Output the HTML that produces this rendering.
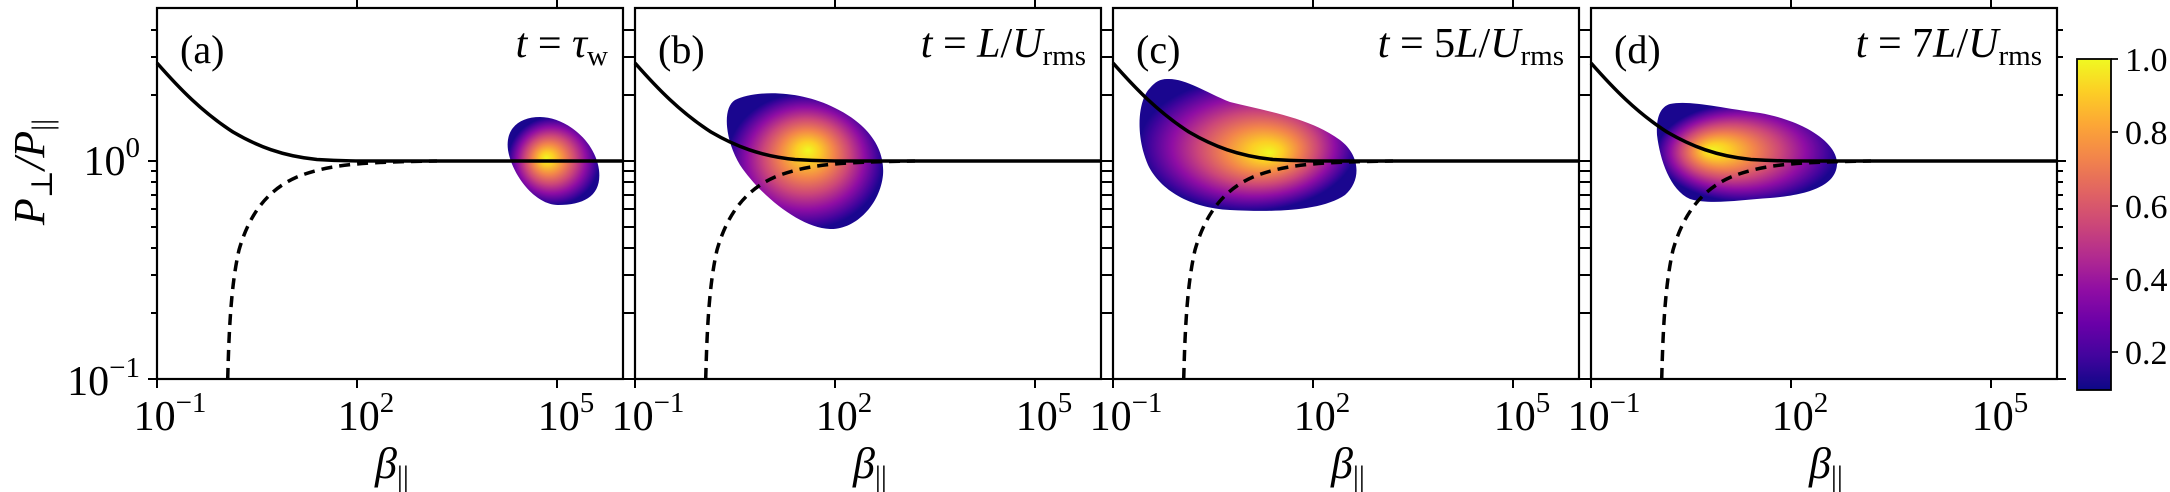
<!DOCTYPE html>
<html><head><meta charset="utf-8"><style>
html,body{margin:0;padding:0;background:#fff;}
svg{display:block;}
text{font-family:"Liberation Serif","DejaVu Serif",serif;fill:#000;}
</style></head><body>
<svg width="2170" height="492" viewBox="0 0 2170 492" xmlns="http://www.w3.org/2000/svg">
<defs>
<linearGradient id="cb" x1="0" y1="1" x2="0" y2="0">
<stop offset="0" stop-color="#0d0887"/><stop offset="0.1" stop-color="#41049d"/><stop offset="0.2" stop-color="#6a00a8"/><stop offset="0.3" stop-color="#8f0da4"/><stop offset="0.4" stop-color="#b12a90"/><stop offset="0.5" stop-color="#cc4778"/><stop offset="0.6" stop-color="#e16462"/><stop offset="0.7" stop-color="#f2844b"/><stop offset="0.8" stop-color="#fca636"/><stop offset="0.9" stop-color="#fcce25"/><stop offset="1" stop-color="#f0f921"/>
</linearGradient>
<radialGradient id="ga" cx="0.5" cy="0.5" r="0.5" fx="0.42" fy="0.47">
<stop offset="0" stop-color="#f0f921"/><stop offset="0.15" stop-color="#fcce25"/><stop offset="0.35" stop-color="#f2844b"/><stop offset="0.55" stop-color="#cc4778"/><stop offset="0.75" stop-color="#8f0da4"/><stop offset="0.92" stop-color="#41049d"/><stop offset="1" stop-color="#1a068f"/>
</radialGradient>
<radialGradient id="gb" cx="0.5" cy="0.5" r="0.5" fx="0.52" fy="0.42">
<stop offset="0" stop-color="#f0f921"/><stop offset="0.15" stop-color="#fcce25"/><stop offset="0.35" stop-color="#f2844b"/><stop offset="0.55" stop-color="#cc4778"/><stop offset="0.75" stop-color="#8f0da4"/><stop offset="0.92" stop-color="#41049d"/><stop offset="1" stop-color="#1a068f"/>
</radialGradient>
<radialGradient id="gc" cx="0.5" cy="0.5" r="0.5" fx="0.60" fy="0.56">
<stop offset="0" stop-color="#f0f921"/><stop offset="0.15" stop-color="#fcce25"/><stop offset="0.35" stop-color="#f2844b"/><stop offset="0.55" stop-color="#cc4778"/><stop offset="0.75" stop-color="#8f0da4"/><stop offset="0.92" stop-color="#41049d"/><stop offset="1" stop-color="#1a068f"/>
</radialGradient>
<radialGradient id="gd" cx="0.5" cy="0.5" r="0.5" fx="0.30" fy="0.48">
<stop offset="0" stop-color="#f0f921"/><stop offset="0.15" stop-color="#fcce25"/><stop offset="0.35" stop-color="#f2844b"/><stop offset="0.55" stop-color="#cc4778"/><stop offset="0.75" stop-color="#8f0da4"/><stop offset="0.92" stop-color="#41049d"/><stop offset="1" stop-color="#1a068f"/>
</radialGradient>
<g id="axes" fill="none" stroke="#000">
<rect x="0" y="8" width="466" height="371" stroke-width="2.2"/>
<g stroke-width="2">
<path d="M0,379v9 M200,379v9 M400,379v9 M200,8v-9 M400,8v-9"/>
<path d="M0,161h-9 M0,379h-9 M466,161h9 M466,379h9"/>
<path d="M0,95h-6 M0,57h-6 M0,30h-6 M0,171h-6 M0,182h-6 M0,195h-6 M0,209h-6 M0,227h-6 M0,248h-6 M0,275h-6 M0,313h-6"/>
<path d="M466,95h6 M466,57h6 M466,30h6 M466,171h6 M466,182h6 M466,195h6 M466,209h6 M466,227h6 M466,248h6 M466,275h6 M466,313h6"/>
</g>
</g>
<path id="solid" d="M0,63 C22,88 45,112 76,132 C100,146 125,156 160,159.5 C185,161 200,161 230,161 L466,161" fill="none" stroke="#000" stroke-width="3.5"/>
<path id="dash" d="M70.7,379 C72,330 74,285 82,250 C92,215 110,190 140,177 C170,165 200,162 280,161" fill="none" stroke="#000" stroke-width="3.5" stroke-dasharray="11,7"/>
</defs>

<!-- blobs -->
<path d="M540,117 C565,117 595,140 599,170 C602,195 585,205 558,205 C535,205 512,175 508,150 C505,128 520,117 540,117 Z" fill="url(#ga)"/>
<path d="M735,100 C755,90 800,90 835,108 C870,125 885,150 883,175 C880,205 855,230 830,229 C800,228 760,195 740,165 C725,140 722,108 735,100 Z" fill="url(#gb)"/>
<path d="M1167,79 C1185,78 1205,92 1230,102 C1270,112 1310,118 1340,140 C1360,155 1362,180 1345,195 C1320,212 1270,212 1230,210 C1190,208 1160,190 1148,165 C1135,135 1138,100 1150,88 C1155,82 1160,79 1167,79 Z" fill="url(#gc)"/>
<path d="M1670,104 C1690,100 1720,108 1760,113 C1800,120 1835,140 1837,162 C1838,185 1810,195 1770,198 C1740,200 1710,205 1690,199 C1670,190 1660,160 1657,135 C1656,118 1660,107 1670,104 Z" fill="url(#gd)"/>

<g transform="translate(157,0)"><use href="#dash"/><use href="#solid"/><use href="#axes"/></g>
<g transform="translate(635,0)"><use href="#dash"/><use href="#solid"/><use href="#axes"/></g>
<g transform="translate(1113,0)"><use href="#dash"/><use href="#solid"/><use href="#axes"/></g>
<g transform="translate(1591,0)"><use href="#dash"/><use href="#solid"/><use href="#axes"/></g>

<!-- y tick labels -->
<g font-size="42" text-anchor="end">
<text x="140" y="175">10<tspan font-size="29" dy="-18">0</tspan></text>
<text x="140" y="395">10<tspan font-size="29" dy="-18">−1</tspan></text>
</g>
<!-- x tick labels -->
<g font-size="42" text-anchor="middle">
<text x="170" y="430">10<tspan font-size="29" dy="-18">−1</tspan></text>
<text x="366" y="430">10<tspan font-size="29" dy="-18">2</tspan></text>
<text x="566" y="430">10<tspan font-size="29" dy="-18">5</tspan></text>
<text x="648" y="430">10<tspan font-size="29" dy="-18">−1</tspan></text>
<text x="844" y="430">10<tspan font-size="29" dy="-18">2</tspan></text>
<text x="1044" y="430">10<tspan font-size="29" dy="-18">5</tspan></text>
<text x="1126" y="430">10<tspan font-size="29" dy="-18">−1</tspan></text>
<text x="1322" y="430">10<tspan font-size="29" dy="-18">2</tspan></text>
<text x="1522" y="430">10<tspan font-size="29" dy="-18">5</tspan></text>
<text x="1604" y="430">10<tspan font-size="29" dy="-18">−1</tspan></text>
<text x="1800" y="430">10<tspan font-size="29" dy="-18">2</tspan></text>
<text x="2000" y="430">10<tspan font-size="29" dy="-18">5</tspan></text>
</g>
<!-- x labels -->
<g font-size="44" font-style="italic">
<text x="375" y="478">β<tspan font-style="normal" font-size="30" dy="8">||</tspan></text>
<text x="853" y="478">β<tspan font-style="normal" font-size="30" dy="8">||</tspan></text>
<text x="1331" y="478">β<tspan font-style="normal" font-size="30" dy="8">||</tspan></text>
<text x="1809" y="478">β<tspan font-style="normal" font-size="30" dy="8">||</tspan></text>
</g>
<!-- y label -->
<text transform="translate(44,172) rotate(-90)" font-size="44" font-style="italic" text-anchor="middle">P<tspan font-style="normal" font-size="30" dy="8">⊥</tspan><tspan dy="-8">/P</tspan><tspan font-style="normal" font-size="30" dy="8">||</tspan></text>

<!-- panel labels -->
<g font-size="40">
<text x="180" y="63">(a)</text>
<text x="658" y="63">(b)</text>
<text x="1136" y="63">(c)</text>
<text x="1614" y="63">(d)</text>
</g>
<g font-size="42" text-anchor="end">
<text x="608" y="57"><tspan font-style="italic">t</tspan> = <tspan font-style="italic">τ</tspan><tspan font-size="29" dy="8">w</tspan></text>
<text x="1086" y="57"><tspan font-style="italic">t</tspan> = <tspan font-style="italic">L</tspan>/<tspan font-style="italic">U</tspan><tspan font-size="29" dy="8">rms</tspan></text>
<text x="1564" y="57"><tspan font-style="italic">t</tspan> = 5<tspan font-style="italic">L</tspan>/<tspan font-style="italic">U</tspan><tspan font-size="29" dy="8">rms</tspan></text>
<text x="2042" y="57"><tspan font-style="italic">t</tspan> = 7<tspan font-style="italic">L</tspan>/<tspan font-style="italic">U</tspan><tspan font-size="29" dy="8">rms</tspan></text>
</g>

<!-- colorbar -->
<rect x="2077" y="59" width="34" height="331" fill="url(#cb)" stroke="#000" stroke-width="1.8"/>
<path d="M2111,59h7 M2111,132h7 M2111,206h7 M2111,279h7 M2111,352h7" stroke="#000" stroke-width="1.8"/>
<g font-size="34">
<text x="2125" y="71">1.0</text>
<text x="2125" y="144">0.8</text>
<text x="2125" y="218">0.6</text>
<text x="2125" y="291">0.4</text>
<text x="2125" y="364">0.2</text>
</g>
</svg>
</body></html>
